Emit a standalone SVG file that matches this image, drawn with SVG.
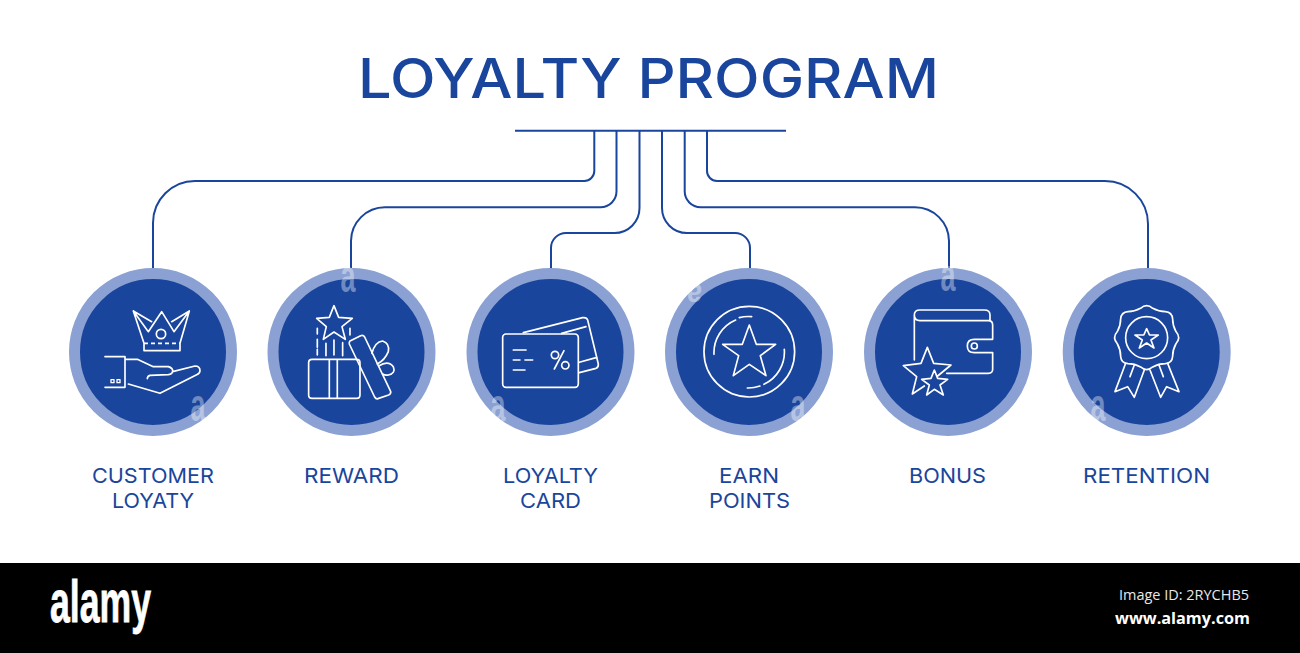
<svg xmlns="http://www.w3.org/2000/svg" width="1300" height="653" viewBox="0 0 1300 653">
<style>
.ring{fill:#1A459C;stroke:#8BA1D3;stroke-width:11}
.ic{fill:none;stroke:#fff;stroke-width:5;stroke-linejoin:round;stroke-linecap:round}
.con{fill:none;stroke:#1A459C;stroke-width:2}
.lb{font-family:Inter,"Liberation Sans",sans-serif;font-size:20.5px;font-weight:400;fill:#1A459C}
.ti{font-family:Inter,"Liberation Sans",sans-serif;font-size:55px;font-weight:500;fill:#1A459C}
.wm{font-family:"Liberation Sans",sans-serif;font-weight:700;font-size:30px;fill:#fff;fill-opacity:.38;text-anchor:middle}
</style>
<defs>
<circle id="disc" r="78.5" class="ring"/>
</defs>
<rect width="1300" height="653" fill="#fff"/>
<text id="title" class="ti" x="358" y="98" textLength="581" lengthAdjust="spacingAndGlyphs">LOYALTY PROGRAM</text>
<g id="connectors" class="con">
<path d="M515 130.7H786"/>
<path d="M594.3 131V171A10 10 0 0 1 584.3 181H195A42 42 0 0 0 153 223V268"/>
<path d="M616.5 131V191A16 16 0 0 1 600.5 207.3H385A34 34 0 0 0 351 241V268"/>
<path d="M639.5 131V208A25 25 0 0 1 614.5 233H566A15 15 0 0 0 551 248V268"/>
<path d="M662 131V208A25 25 0 0 0 687 233H735A15 15 0 0 1 750 248V268"/>
<path d="M684.7 131V191A16 16 0 0 0 700.7 207.3H915A34 34 0 0 1 949 241V268"/>
<path d="M707 131V171A10 10 0 0 0 717 181H1105A43 43 0 0 1 1148 224V268"/>
</g>
<g id="node-customer-loyaty">
<use href="#disc" x="153" y="352"/>
<g class="ic" transform="translate(100 300) scale(.3333)">
<path d="M132 130V152H240V130L268 33L222 95L185 35L145 95L100 33ZM100 33L155 65M268 33L215 65"/>
<path d="M132 130H240" stroke-dasharray="12 9" stroke-linecap="butt"/>
<circle cx="183" cy="102" r="14"/>
<path d="M15 170H75V262H15M75 178H112L160 200H205Q218 204 218 212Q218 222 205 224L150 226Q142 228 142 236M218 215L285 198Q300 198 300 212Q300 220 290 224L180 280L85 252"/>
<path d="M33 239h9v9h-9zM51 239h9v9h-9z" stroke-width="4"/>
</g>
<text class="lb" x="92" y="483" textLength="122" lengthAdjust="spacingAndGlyphs">CUSTOMER</text>
<text class="lb" x="112" y="508" textLength="82" lengthAdjust="spacingAndGlyphs">LOYATY</text>
</g>
<g id="node-reward">
<use href="#disc" x="351.5" y="352"/>
<g class="ic" transform="translate(60 260) scale(.3333)">
<path d="M822 137L836 172L877 175L846 200L856 238L822 216L790 238L799 200L770 175L808 172Z"/>
<path d="M772 205V222M772 238V262M772 268V285M798 250V287M822 240V285M848 248V287M870 205V225"/>
<path d="M756 298H890Q900 298 900 308V405Q900 415 890 415H756Q746 415 746 405V308Q746 298 756 298ZM808 298V415M832 298V415"/>
<path d="M870 243L902 227Q910 224 914 231L992 394Q994 402 986 405L954 416Q948 418 944 411L868 252Q867 246 870 243Z"/>
<path d="M936 280Q945 245 968 243Q990 250 985 275Q975 300 952 312M956 318Q985 300 1000 320Q1008 340 985 345Q975 347 968 342"/>
</g>
<text class="lb" x="304" y="483" textLength="95" lengthAdjust="spacingAndGlyphs">REWARD</text>
</g>
<g id="node-loyalty-card">
<use href="#disc" x="550.5" y="352"/>
<g class="ic" transform="translate(460 260) scale(.3333)">
<rect x="128" y="222" width="227" height="160" rx="10"/>
<path d="M190 218L368 173Q380 171 383 180L415 312Q416 322 408 325L358 338M305 220L378 200M358 307L411 292"/>
<path d="M160 270H198M160 300H180M195 300H218M160 330H195M283 327L312 272"/>
<circle cx="285" cy="285" r="11"/><circle cx="316" cy="316" r="11"/>
</g>
<text class="lb" x="503" y="483" textLength="95" lengthAdjust="spacingAndGlyphs">LOYALTY</text>
<text class="lb" x="520" y="508" textLength="61" lengthAdjust="spacingAndGlyphs">CARD</text>
</g>
<g id="node-earn-points">
<use href="#disc" x="749" y="352"/>
<g class="ic" transform="translate(460 260) scale(.3333)">
<circle cx="868" cy="275" r="136"/>
<path d="M762 283A107 107 0 0 1 827 180M838 173A107 107 0 0 1 875 170M973 268A107 107 0 0 1 912 373M900 378A107 107 0 0 1 862 384"/>
<path d="M868 195L889 253H947L901 287L918 347L868 313L820 347L836 287L788 253H847Z"/>
</g>
<text class="lb" x="719" y="483" textLength="60" lengthAdjust="spacingAndGlyphs">EARN</text>
<text class="lb" x="709" y="508" textLength="81" lengthAdjust="spacingAndGlyphs">POINTS</text>
</g>
<g id="node-bonus">
<use href="#disc" x="948" y="352"/>
<g class="ic" transform="translate(895 300) scale(.3333)">
<path d="M58 180V45Q58 30 75 30H268Q285 30 285 45V62M58 45Q58 62 75 62H280Q293 62 293 75V118H238Q217 118 217 138Q217 158 238 158H293V208Q293 220 280 220H155"/>
<circle cx="238" cy="138" r="9"/>
<path d="M128 228L168 195L116 190L97 142L78 190L25 197L65 230L52 282L88 258"/>
<path d="M118 210L128 235L158 238L135 255L145 285L118 268L95 285L103 255L80 238L108 235Z"/>
</g>
<text class="lb" x="909" y="483" textLength="77" lengthAdjust="spacingAndGlyphs">BONUS</text>
</g>
<g id="node-retention">
<use href="#disc" x="1146.7" y="352"/>
<g class="ic" transform="translate(855 260) scale(.3333)">
<g transform="translate(875 233)">
<path d="M-18.3 -88Q0 -104 18.3 -88Q36 -78 56 -78Q76.4 -76.4 78 -56Q78 -36 88 -18.3Q104 0 88 18.3Q78 36 78 56Q76.4 76.4 56 78Q36 78 18.3 88Q0 104 -18.3 88Q-36 78 -56 78Q-76.4 76.4 -78 56Q-78 36 -88 18.3Q-104 0 -88 -18.3Q-78 -36 -78 -56Q-76.4 -76.4 -56 -78Q-36 -78 -18.3 -88Z"/>
<circle r="63"/>
<path d="M0 -27L8.5 -8L35 -8L13 7L22 31L0 16L-22 31L-13 7L-35 -8L-8.5 -8Z"/>
</g>
<path d="M812 310L780 395L818 380L838 412L868 330M885 330L917 412L935 380L972 395L938 310M838 315L825 350M912 315L925 350"/>
</g>
<text class="lb" x="1083" y="483" textLength="127" lengthAdjust="spacingAndGlyphs">RETENTION</text>
</g>
<g id="watermarks">
<text class="wm" transform="translate(198 420.5) scale(.9 1.55)">a</text>
<text class="wm" transform="translate(348 292) scale(.9 1.55)">a</text>
<text class="wm" transform="translate(602 282) rotate(-25) scale(.7 .9)">a</text>
<text class="wm" transform="translate(694 284) rotate(180) scale(.95 1.1)">a</text>
<text class="wm" transform="translate(498 420.5) scale(.9 1.55)">a</text>
<text class="wm" transform="translate(798 420.5) scale(.9 1.55)">a</text>
<text class="wm" transform="translate(948 291) scale(.9 1.55)">a</text>
<text class="wm" transform="translate(1098 420.5) scale(.9 1.55)">a</text>
</g>
<g id="footer">
<rect y="563" width="1300" height="90" fill="#000"/>
<text x="50" y="622" textLength="101" lengthAdjust="spacingAndGlyphs" font-family="'Liberation Sans',sans-serif" font-weight="700" font-size="60" fill="#fff" stroke="#fff" stroke-width=".8">alamy</text>
<text x="1119" y="600" textLength="130" lengthAdjust="spacingAndGlyphs" font-family="'Open Sans',sans-serif" font-size="14" fill="#e8e8e8">Image ID: 2RYCHB5</text>
<text x="1115" y="624" textLength="135" lengthAdjust="spacingAndGlyphs" font-family="'Open Sans',sans-serif" font-weight="700" font-size="16" fill="#fff">www.alamy.com</text>
</g>
</svg>
